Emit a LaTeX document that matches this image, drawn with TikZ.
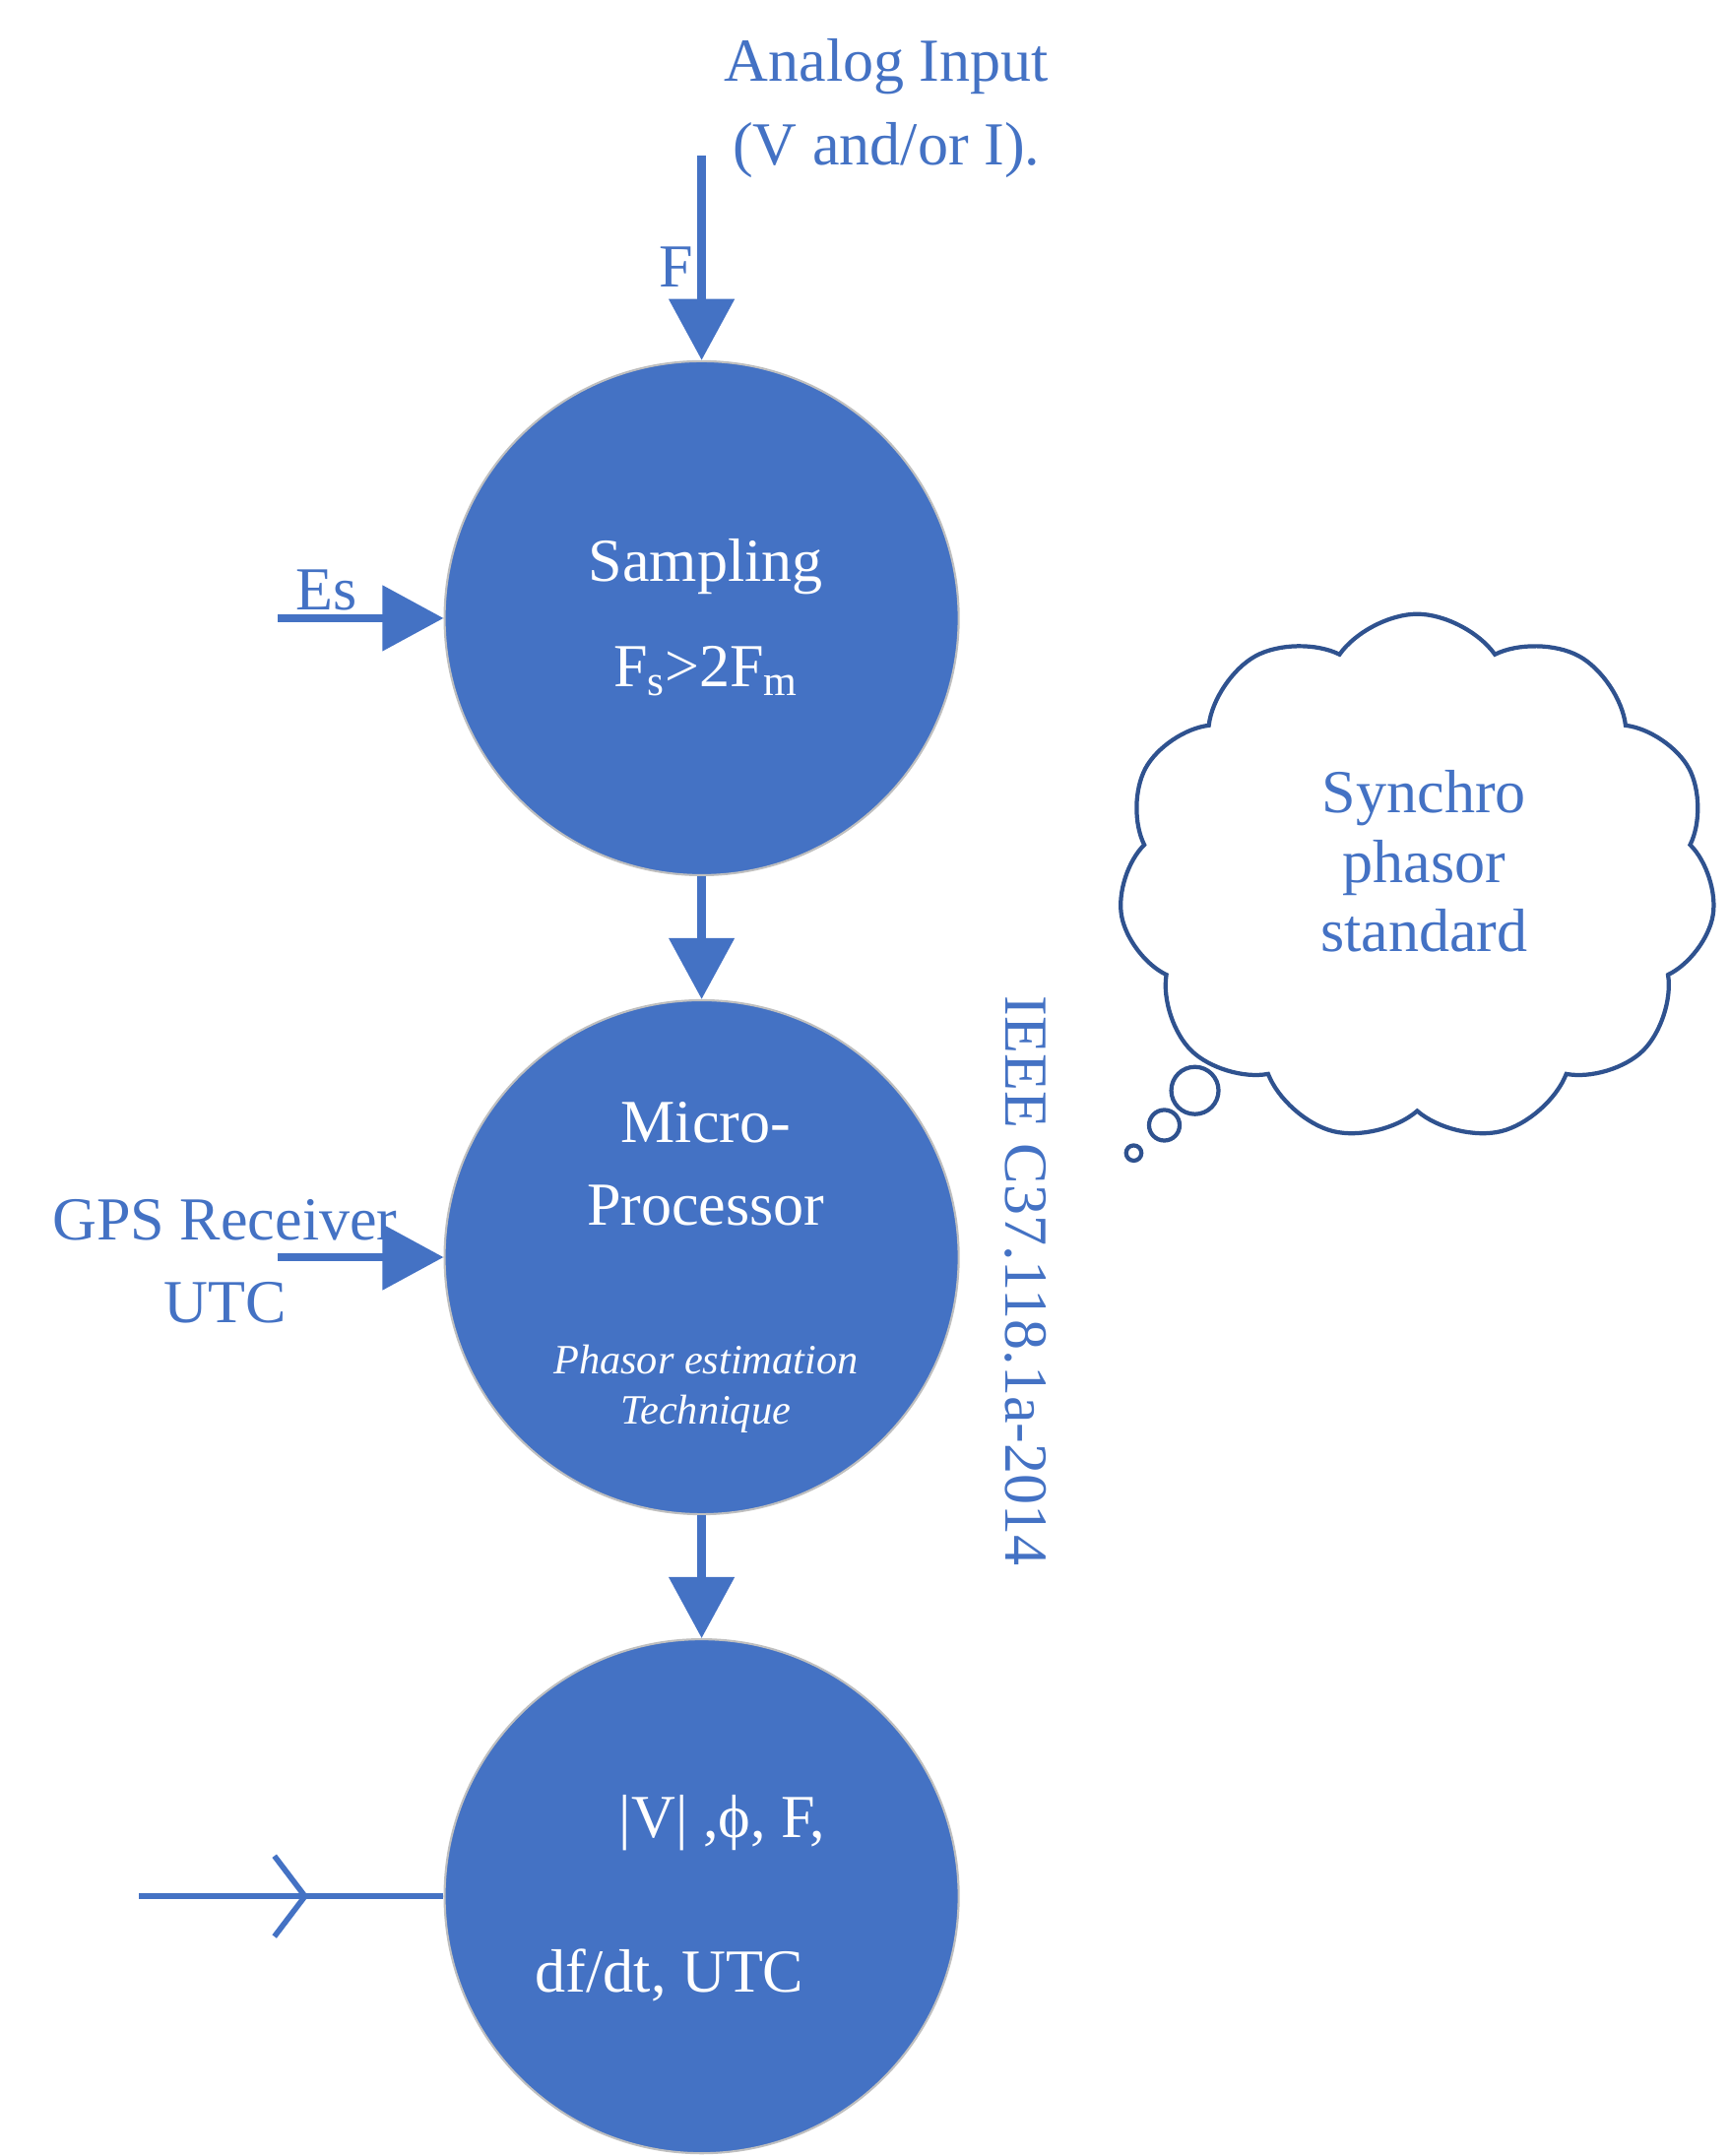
\documentclass[tikz,border=0pt]{standalone}
\usepackage{fontspec}
\setmainfont{Liberation Serif}
\usetikzlibrary{arrows.meta,shapes.symbols}
\definecolor{bl}{HTML}{4472C4}
\definecolor{dk}{HTML}{2F528F}
\begin{document}
\begin{tikzpicture}[x=1pt,y=-1pt,
 circ/.style={circle,fill=bl,draw=black!25,line width=1.5pt,minimum size=370pt,inner sep=0pt},
 arr/.style={bl,line width=6pt,-{Triangle[width=46pt,length=44pt]}},
 lab/.style={text=bl,font=\fontsize{44}{50}\selectfont,inner sep=0pt},
 wt/.style={text=white,font=\fontsize{44}{50}\selectfont,inner sep=0pt,align=center}]
\useasboundingbox (0,0) rectangle (1245,1552);
\node[circ] (c1) at (505,445) {};
\node[circ] (c2) at (505,905) {};
\node[circ] (c3) at (505,1365) {};
\coordinate (top) at (505,112);
\coordinate (es) at (200,445);
\coordinate (gps) at (200,905);
\coordinate (bot) at (100,1365);
\coordinate (mid) at (222,1365);
\draw[arr] (top) -- (c1);
\draw[arr] (c1) -- (c2);
\draw[arr] (c2) -- (c3);
\draw[arr] (es) -- (c1);
\draw[arr] (gps) -- (c2);
\draw[bl,line width=4pt] (bot) -- (c3);
\draw[bl,line width=4pt,-{Straight Barb[length=22pt,width=58pt,line width=4pt]}] (bot) -- (mid);
\node[lab] (a1) at (638,48) {Analog Input};
\node[lab] (a2) at (638,108) {(V and/or I).};
\node[lab] (f) at (487,192) {F};
\node[lab] (e) at (235,425) {Es};
\node[lab] (g1) at (162,878) {GPS Receiver};
\node[lab] (g2) at (162,938) {UTC};
\node[wt] at (508,408) {Sampling};
\node[wt] at (508,483) {F\textsubscript{s}>2F\textsubscript{m}};
\node[wt] at (508,808) {Micro-};
\node[wt] at (508,868) {Processor};
\node[wt,font=\fontsize{30}{36}\selectfont\itshape] at (508,1000) {Phasor estimation\\Technique};
\node[wt] at (520,1312) {|V| ,ϕ, F,};
\node[wt] at (482,1422) {df/dt, UTC};
\node[lab,rotate=-90] (ieee) at (738,922) {IEEE C37.118.1a-2014};
\node[cloud,cloud puffs=11,cloud puff arc=110,draw=dk,line width=3pt,fill=white,minimum width=430pt,minimum height=380pt,aspect=1.1] (cl) at (1020,632) {};
\node[lab,align=center] at (1025,620) {Synchro\\phasor\\standard};
\node[circle,draw=dk,line width=3pt,minimum size=34pt,inner sep=0pt] (t1) at (860,785) {};
\node[circle,draw=dk,line width=3pt,minimum size=22pt,inner sep=0pt] (t2) at (838,810) {};
\node[circle,draw=dk,line width=3pt,minimum size=11pt,inner sep=0pt] (t3) at (816,830) {};
\end{tikzpicture}
\end{document}
